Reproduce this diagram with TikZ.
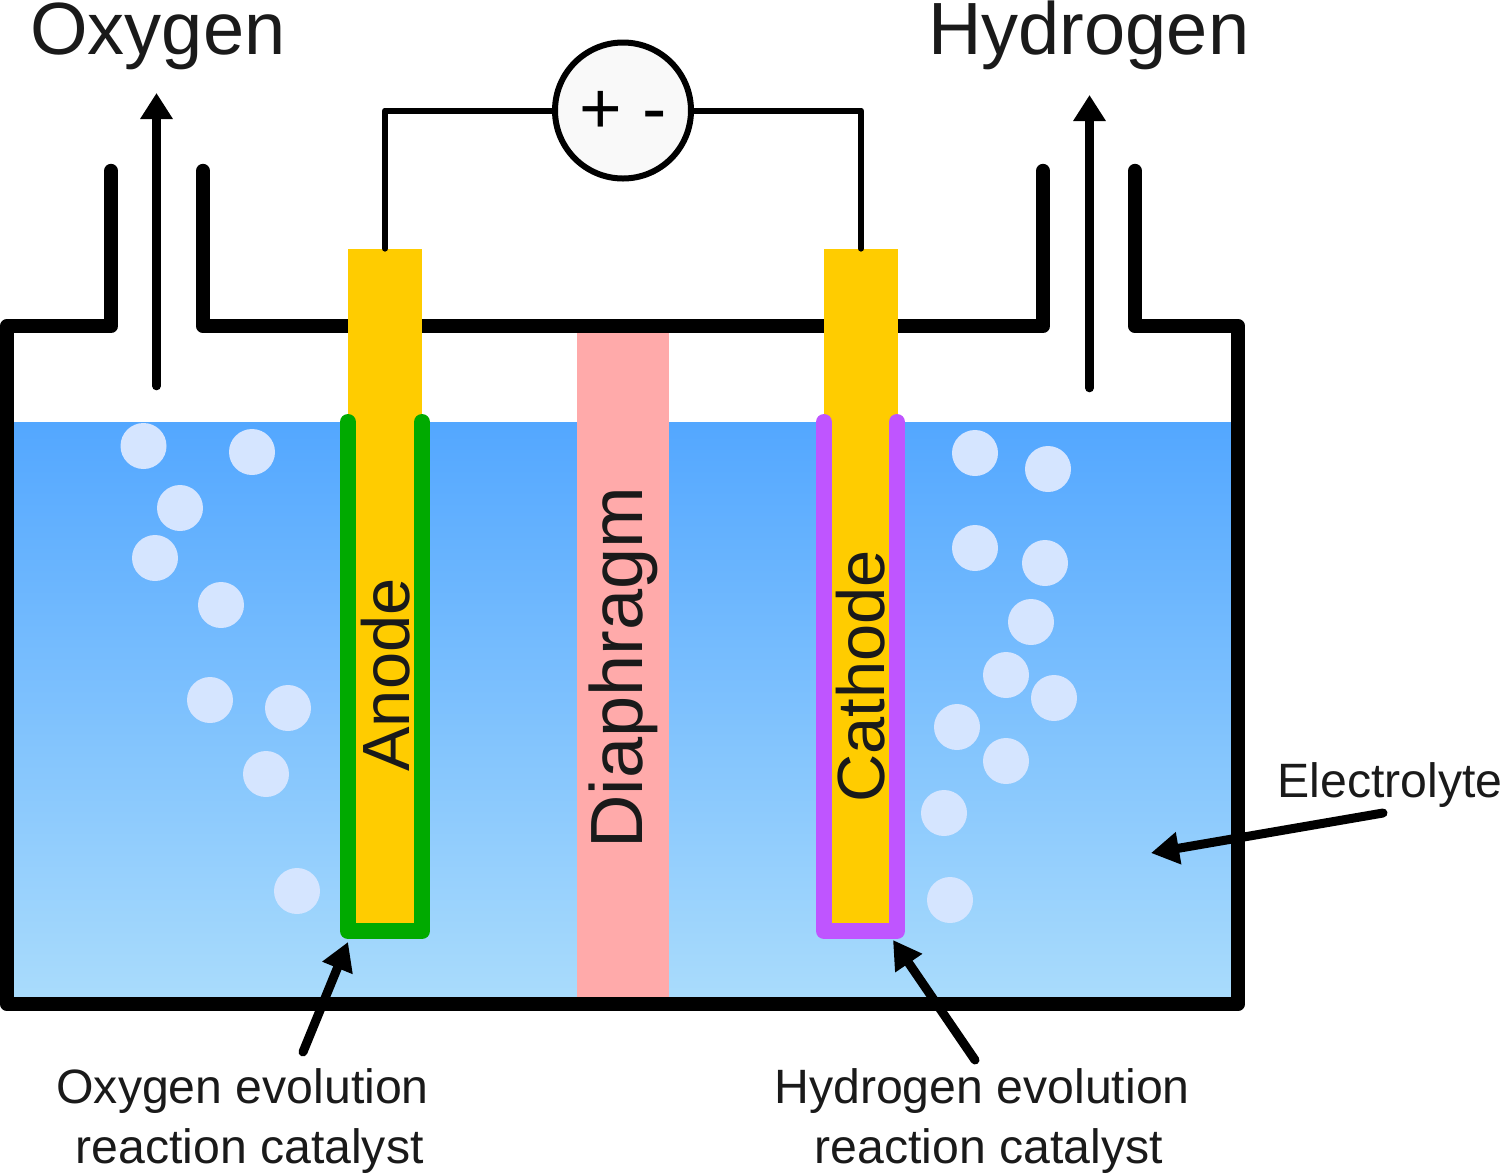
\documentclass[tikz,border=0pt]{standalone}
\usepackage{fontspec}
\setmainfont{Liberation Sans}
\usetikzlibrary{arrows.meta}
\definecolor{ink}{HTML}{1A1A1A}
\definecolor{watertop}{HTML}{53A7FF}
\definecolor{waterbottom}{HTML}{AADCFC}
\definecolor{membrane}{HTML}{FFAAAA}
\definecolor{electrode}{HTML}{FFCC00}
\definecolor{oxcat}{HTML}{00AA00}
\definecolor{hycat}{HTML}{BF55FF}
\definecolor{bubblefill}{HTML}{D5E5FF}
\definecolor{sourcefill}{HTML}{F9F9F9}
\tikzset{
  x=0.5pt,y=-0.5pt,
  vessel/.style={line width=7.2pt,line cap=round,line join=round},
  wire/.style={line width=3pt,line cap=round,line join=round},
  catalyst/.style={line width=8pt,line cap=round,line join=round},
  gasarrow/.style={line width=4.3pt,line cap=round,-{Triangle[length=13pt,width=15.5pt]}},
  pointer/.style={line width=4.5pt,line cap=round,-{Triangle[length=14pt,width=15.5pt]}},
  bubble/.style={circle,fill=bubblefill,minimum size=23pt,inner sep=0pt},
  plate/.style={rectangle,fill=electrode,inner sep=0pt,minimum width=37pt,minimum height=338pt},
  bigtext/.style={anchor=base west,inner sep=0pt,text=ink,font=\fontsize{37}{40}\selectfont},
  smalltext/.style={anchor=base west,inner sep=0pt,text=ink,font=\fontsize{24.1}{28}\selectfont},
  sidetext/.style={anchor=base west,inner sep=0pt,text=ink,rotate=90,font=\fontsize{33.4}{36}\selectfont},
}
\begin{document}
\begin{tikzpicture}
\useasboundingbox (0,0) rectangle (1500,1174);

% electrolyte
\shade[top color=watertop,bottom color=waterbottom] (7,422) rectangle (1238,1004);

% diaphragm
\node[rectangle,fill=membrane,inner sep=0pt,minimum width=46pt,minimum height=332pt] (diaphragm) at (623,665) {};

% gas bubbles, oxygen side
\foreach \n/\bx/\by in {a/143.5/446,b/252/452,c/180/508,d/155/558,e/221/605,f/210/700,g/288/708,h/266/774,i/297/891}
  \node[bubble] (ox\n) at (\bx,\by) {};
% gas bubbles, hydrogen side
\foreach \n/\bx/\by in {a/975/453,b/1048/469,c/975/548,d/1045/563,e/1031/622,f/1006/675,g/1054/698,h/957/727,i/1006/761,j/944/813,k/950/900}
  \node[bubble] (hy\n) at (\bx,\by) {};

% cell walls and gas outlets
\draw[vessel] (111,171) -- (111,326) -- (7,326) -- (7,1004) -- (1238,1004) -- (1238,326) -- (1135,326) -- (1135,171);
\draw[vessel] (203,171) -- (203,326) -- (1043,326) -- (1043,171);

% electrodes
\node[plate] (anode) at (385,587) {};
\node[plate] (cathode) at (861,587) {};

% catalyst coatings
\draw[catalyst,oxcat] (348,422) -- (348,931) -- (422,931) -- (422,422);
\draw[catalyst,hycat] (824,422) -- (824,931) -- (897,931) -- (897,422);

% power supply
\node[circle,draw=black,fill=sourcefill,line width=3pt,minimum size=68pt,inner sep=0pt] (source) at (623,110.5) {};
\node[anchor=base,inner sep=0pt,text=black,font=\fontsize{36.5}{40}\selectfont] (polarity) at (623,133) {+ -};
\draw[wire] (anode.north) |- (source.west);
\draw[wire] (cathode.north) |- (source.east);

% gas flow
\coordinate (oxstart) at (156.5,386);
\coordinate (oxtip) at (156.5,93);
\coordinate (hystart) at (1089.5,388);
\coordinate (hytip) at (1089.5,95);
\draw[gasarrow] (oxstart) -- (oxtip);
\draw[gasarrow] (hystart) -- (hytip);

% gas names
\node[bigtext] (oxygen) at (30,54) {Oxygen};
\node[bigtext] (hydrogen) at (928,54) {Hydrogen};

% vertical labels
\node[sidetext] (anodelabel) at (409,772) {Anode};
\node[sidetext] (cathodelabel) at (884,803) {Cathode};
\node[sidetext,font=\fontsize{37}{40}\selectfont] (diaphragmlabel) at (642,849) {Diaphragm};

% callouts
\node[smalltext] (electrolyte) at (1277,797) {Electrolyte};
\node[smalltext] (oer1) at (56,1103) {Oxygen evolution};
\node[smalltext] (oer2) at (75,1163) {reaction catalyst};
\node[smalltext] (her1) at (774,1103) {Hydrogen evolution};
\node[smalltext] (her2) at (814,1163) {reaction catalyst};

\coordinate (elstart) at (1383,813);
\coordinate (eltip) at (1151,853);
\coordinate (oerstart) at (303,1052);
\coordinate (oertip) at (348,942);
\coordinate (herstart) at (975,1060);
\coordinate (hertip) at (893,940);
\draw[pointer] (elstart) -- (eltip);
\draw[pointer] (oerstart) -- (oertip);
\draw[pointer] (herstart) -- (hertip);
\end{tikzpicture}
\end{document}
